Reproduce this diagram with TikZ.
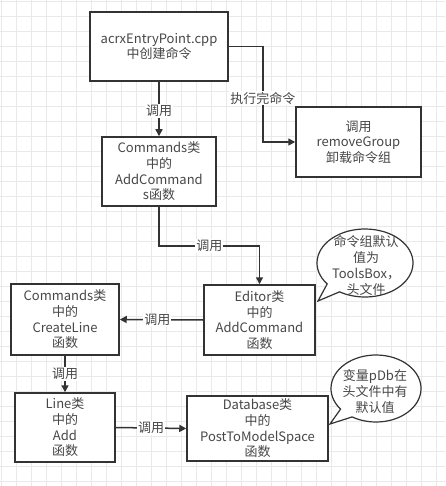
\documentclass[tikz,border=0pt]{standalone}
\usepackage{fontspec}
\setmainfont{Noto Sans CJK SC}
\usetikzlibrary{arrows.meta,calc}
\definecolor{ink}{HTML}{333333}
\definecolor{txt}{HTML}{474747}
\definecolor{gridc}{HTML}{E9E9E9}
\tikzset{
  box/.style={draw=ink,line width=1.5pt,fill=white,text=txt,align=center,
    inner sep=0pt,font=\fontsize{13}{15.7}\selectfont},
  arr/.style={draw=ink,line width=1.5pt,-{Triangle[length=7pt,width=7pt]}},
  lbl/.style={fill=white,text=txt,inner sep=1pt,font=\fontsize{13}{15.7}\selectfont},
  bubble/.style={draw=ink,line width=1.2pt,fill=white},
  btxt/.style={text=txt,align=center,inner sep=0pt,font=\fontsize{13}{16}\selectfont}
}
\begin{document}
\begin{tikzpicture}[x=1pt,y=-1pt]
\useasboundingbox (0,0) rectangle (445,486);
\fill[white] (0,0) rectangle (445,486);
% grid
\foreach \k in {0,...,29} {
  \draw[gridc,line width=0.8pt] ({1+15*\k},0) -- ({1+15*\k},486);
}
\foreach \k in {0,...,32} {
  \draw[gridc,line width=0.8pt] (0,{1+15*\k}) -- (445,{1+15*\k});
}
% boxes
\node[box,minimum width=138pt,minimum height=69pt] (entry) at (159,46.5) {acrxEntryPoint.cpp\\中创建命令};
\node[box,minimum width=125pt,minimum height=70pt] (remove) at (358.5,142) {调用\\removeGroup\\卸载命令组};
\node[box,minimum width=114pt,minimum height=69pt] (addcmds) at (159,171.5) {Commands类\\中的\\AddCommand\\s函数};
\node[box,minimum width=111pt,minimum height=70pt] (editor) at (259.5,320) {Editor类\\中的\\AddCommand\\函数};
\node[box,minimum width=108pt,minimum height=71pt] (create) at (65,319.5) {Commands类\\中的\\CreateLine\\函数};
\node[box,minimum width=100pt,minimum height=69pt] (line) at (65,427.5) {Line类\\中的\\Add\\函数};
\node[box,minimum width=141pt,minimum height=65pt] (db) at (257.5,428.5) {Database类\\中的\\PostToModelSpace\\函数};
% connectors
\draw[arr] (entry.south) -- node[lbl,pos=0.54]{调用} (addcmds.north);
\draw[arr] (entry.east) -- ++(34,0) |- node[lbl,pos=0.27]{执行完命令} (remove.west);
\draw[arr] (addcmds.south) -- ++(0,39) -| node[lbl,pos=0.25]{调用} (editor.north);
\draw[arr] (editor.west) -- node[lbl,pos=0.55]{调用} (create.east);
\draw[arr] (create.south) -- node[lbl,pos=0.5]{调用} (line.north);
\draw[arr] (line.east) -- node[lbl,pos=0.5]{调用} (db.west);
% callouts
\coordinate (c1) at (365,263);
\coordinate (t1) at (318,301);
\draw[bubble] ($(c1)+(142:48 and 34)$) arc[start angle=142, end angle=482, x radius=48, y radius=34] -- (t1) -- cycle;
\node[btxt] (n1) at (366,265) {命令组默认\\值为\\ToolsBox，\\头文件};
\coordinate (c2) at (376,388.5);
\coordinate (t2) at (330,424);
\draw[bubble] ($(c2)+(142:45 and 33.5)$) arc[start angle=142, end angle=482, x radius=45, y radius=33.5] -- (t2) -- cycle;
\node[btxt] (n2) at (375,391) {变量pDb在\\头文件中有\\默认值};
\end{tikzpicture}
\end{document}
